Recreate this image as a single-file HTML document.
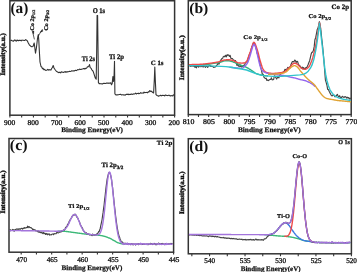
<!DOCTYPE html><html><head><meta charset="utf-8"><style>html,body{margin:0;padding:0;background:#fff;width:357px;height:272px;overflow:hidden}svg{display:block;will-change:transform;filter:blur(0.3px)}text{font-family:"Liberation Serif",serif;text-rendering:geometricPrecision}</style></head><body>
<svg width="357" height="272" viewBox="0 0 357 272">
<rect x="9.9" y="0.75" width="164.7" height="114.45" fill="none" stroke="#333" stroke-width="1.5"/>
<path d="M174.6 115.2v2.4M162.84 115.2v2.4M151.07 115.2v2.4M139.31 115.2v2.4M127.54 115.2v2.4M115.78 115.2v2.4M104.01 115.2v2.4M92.25 115.2v2.4M80.49 115.2v2.4M68.72 115.2v2.4M56.96 115.2v2.4M45.19 115.2v2.4M33.43 115.2v2.4M21.66 115.2v2.4M9.9 115.2v2.4" stroke="#333" stroke-width="1.1" fill="none"/>
<text transform="translate(3.90 124.72) scale(1.028 1.000)" font-size="7.3" fill="#111" stroke="#111" stroke-width="0.3">900</text>
<text transform="translate(27.43 124.72) scale(1.028 1.000)" font-size="7.3" fill="#111" stroke="#111" stroke-width="0.3">800</text>
<text transform="translate(50.96 124.72) scale(1.028 1.000)" font-size="7.3" fill="#111" stroke="#111" stroke-width="0.3">700</text>
<text transform="translate(74.49 124.72) scale(1.028 1.000)" font-size="7.3" fill="#111" stroke="#111" stroke-width="0.3">600</text>
<text transform="translate(98.02 124.72) scale(1.028 1.000)" font-size="7.3" fill="#111" stroke="#111" stroke-width="0.3">500</text>
<text transform="translate(121.54 124.72) scale(1.028 1.000)" font-size="7.3" fill="#111" stroke="#111" stroke-width="0.3">400</text>
<text transform="translate(145.07 124.72) scale(1.028 1.000)" font-size="7.3" fill="#111" stroke="#111" stroke-width="0.3">300</text>
<text transform="translate(168.60 124.72) scale(1.028 1.000)" font-size="7.3" fill="#111" stroke="#111" stroke-width="0.3">200</text>
<text transform="translate(61.28 131.52) scale(1.027 1.000)" font-size="7.0" font-weight="bold" fill="#111" stroke="#111" stroke-width="0.25">Binding Energy(eV)</text>
<text transform="translate(4.54 75.47) rotate(-90) scale(1.037 1.000)" font-size="6.8" font-weight="bold" fill="#111" stroke="#111" stroke-width="0.4">Intensity(a.u.)</text>
<text transform="translate(10.53 12.73) scale(1.054 1.070)" font-size="14.5" font-weight="bold" fill="#111" stroke="#111" stroke-width="0">(a)</text>
<polyline points="10.4,40.6 11.5,40.2 12.15,40.69 12.8,40.9 13.5,41.17 14.2,40.3 14.9,39.87 15.6,40.8 16.3,41.09 17,40.1 17.7,40.38 18.4,40.7 19.1,40.25 19.8,40.4 20.5,40.34 21.2,40.9 21.9,40.14 22.6,40.2 23.3,40.27 24,40.5 24.8,40.37 25.6,39.6 26.6,40.2 27.5,41.2 28.3,43 29.2,44.6 29.85,45.42 30.5,45.8 31.15,46.54 31.8,46.8 33,46.4 33.6,44.7 34.2,43 34.8,47.5 35.5,53.2 36.4,48 37.5,38.5 38.3,34.6 38.8,40.5 39.4,52 40,62 41,66.5 41.75,67.01 42.5,68.8 43.17,68.37 43.83,69.72 44.5,69.3 45.12,69.82 45.75,70.43 46.38,70.21 47,69.9 47.67,69.41 48.33,70.19 49,69.6 49.67,69.94 50.33,69.88 51,69.9 51.7,68.39 52.4,67.5 53.2,65.5 54,68 55,69.5 55.75,70.5 56.5,71.5 57.25,71.79 58,72.2 58.67,72.61 59.33,72.38 60,72.4 60.67,72.87 61.33,71.84 62,72 62.67,72.28 63.33,72.39 64,72.3 64.65,71.85 65.3,71.6 65.95,72.31 66.6,71.8 67.2,71.95 67.8,71.64 68.4,71.8 69,71.6 69.67,71.21 70.33,71.42 71,71.2 71.73,70.87 72.47,71.07 73.2,70.9 74.1,71.07 75,70.5 75.67,70.27 76.33,70.62 77,70.2 77.67,69.64 78.33,69.76 79,69.7 79.67,69.08 80.33,69.46 81,69.4 81.67,69.23 82.33,68.93 83,68.8 83.67,68.56 84.33,69.04 85,68.4 85.9,68.64 86.8,67.8 87.4,66.89 88,66.9 88.8,66.2 89.5,64.6 90.2,67.6 91.2,68.4 91.8,69.85 92.4,70.4 93.15,71.35 93.9,73.6 94.6,75.8 95.3,78 96.2,79.2 96.7,50 97.1,15.4 97.6,15.6 98.1,55 98.4,82.5 99,83.6 99.75,83.42 100.5,83.8 101.23,83.77 101.97,83.91 102.7,83.9 103.47,83.37 104.23,83.36 105,83.5 105.7,83.46 106.4,83.1 107.1,83.3 107.73,82.96 108.37,83.35 109,83 109.9,83.25 110.8,82.8 111.5,84.8 112.2,83.4 112.9,76.5 113.5,81.5 114.1,75 114.5,61.2 114.9,93.8 115.9,95 116.6,94.91 117.3,94.87 118,94.8 118.6,94.75 119.2,94.55 119.8,94.49 120.4,94.25 121,94.6 121.6,94.91 122.2,94.69 122.8,94.73 123.4,94.92 124,94.9 124.6,95 125.2,95.24 125.8,94.5 126.4,94.35 127,94.4 127.6,94.44 128.2,94 128.8,94.76 129.4,94.59 130,94.2 130.72,94.4 131.44,94.03 132.16,94.3 132.88,94.36 133.6,93.9 134.28,94.03 134.96,93.67 135.64,93.08 136.32,94.02 137,93.6 137.6,93.41 138.2,93.16 138.8,93.76 139.4,93.49 140,93.3 140.62,92.69 141.25,93.11 141.88,92.97 142.5,93 143.27,93.28 144.03,92.08 144.8,92.7 145.53,92.45 146.27,92.45 147,92.4 147.67,92.81 148.33,91.72 149,92 149.8,90.58 150.6,91.4 151.4,91.17 152.2,92 152.9,92.6 153.6,93 154.3,80 154.8,67 155.3,80 156,94.6 157.1,95.5 157.82,95.83 158.55,96.21 159.28,95.73 160,95.6 160.67,95.26 161.33,95.87 162,95.5 162.67,95.39 163.33,95.44 164,95.4 164.67,95.92 165.33,95.12 166,95.11 166.67,95.51 167.33,95.54 168,95.6 168.6,95.27 169.2,95.23 169.8,95.68 170.4,96.03 171,95.5 171.6,95.77 172.2,95.76 172.8,95.97 173.4,94.74 174,95.5" fill="none" stroke="#333" stroke-width="1.1" stroke-linejoin="round"/>
<text transform="translate(92.65 12.59) scale(1.000 1.105)" font-size="6.5" font-weight="bold" fill="#111" stroke="#111" stroke-width="0.25">O 1s</text>
<text transform="translate(81.78 60.57) scale(0.981 1.076)" font-size="6.5" font-weight="bold" fill="#111" stroke="#111" stroke-width="0.25">Ti 2s</text>
<text transform="translate(109.02 58.60) scale(1.028 1.089)" font-size="6.5" font-weight="bold" fill="#111" stroke="#111" stroke-width="0.25">Ti 2p</text>
<text transform="translate(150.69 64.65) scale(1.061 1.017)" font-size="6.5" font-weight="bold" fill="#111" stroke="#111" stroke-width="0.25">C 1s</text>
<text transform="translate(33.58 30.41) rotate(-90) scale(1.070 1.000)" font-size="5.7" font-weight="bold" fill="#111" stroke="#111" stroke-width="0.25">Co 2p<tspan font-size="3.8" dy="1.1">1/2</tspan></text>
<text transform="translate(47.56 30.58) rotate(-90) scale(1.078 1.000)" font-size="5.7" font-weight="bold" fill="#111" stroke="#111" stroke-width="0.25">Co 2p<tspan font-size="3.8" dy="1.1">3/2</tspan></text>
<path d="M32.7 32.2L34.4 39.4M41.4 30.6L38.2 36.4" stroke="#222" stroke-width="0.75" fill="none"/>
<path d="M32.0 31.2L34.0 30.9L33.6 34.2Z M42.3 29.2L42.9 31.2L40.2 32.6Z" fill="#1a1a1a" stroke="#1a1a1a" stroke-width="0.3"/>
<rect x="188.3" y="0.75" width="162.9" height="113.85" fill="none" stroke="#333" stroke-width="1.5"/>
<path d="M351.2 114.6v2.4M341.02 114.6v2.4M330.84 114.6v2.4M320.66 114.6v2.4M310.48 114.6v2.4M300.29 114.6v2.4M290.11 114.6v2.4M279.93 114.6v2.4M269.75 114.6v2.4M259.57 114.6v2.4M249.39 114.6v2.4M239.21 114.6v2.4M229.03 114.6v2.4M218.84 114.6v2.4M208.66 114.6v2.4M198.48 114.6v2.4M188.3 114.6v2.4" stroke="#333" stroke-width="1.1" fill="none"/>
<text transform="translate(182.66 123.53) scale(1.079 1.000)" font-size="7.3" fill="#111" stroke="#111" stroke-width="0.3">810</text>
<text transform="translate(203.02 123.53) scale(1.079 1.000)" font-size="7.3" fill="#111" stroke="#111" stroke-width="0.3">805</text>
<text transform="translate(223.38 123.53) scale(1.079 1.000)" font-size="7.3" fill="#111" stroke="#111" stroke-width="0.3">800</text>
<text transform="translate(243.75 123.53) scale(1.079 1.000)" font-size="7.3" fill="#111" stroke="#111" stroke-width="0.3">795</text>
<text transform="translate(264.11 123.53) scale(1.079 1.000)" font-size="7.3" fill="#111" stroke="#111" stroke-width="0.3">790</text>
<text transform="translate(284.47 123.53) scale(1.079 1.000)" font-size="7.3" fill="#111" stroke="#111" stroke-width="0.3">785</text>
<text transform="translate(304.83 123.53) scale(1.079 1.000)" font-size="7.3" fill="#111" stroke="#111" stroke-width="0.3">780</text>
<text transform="translate(325.20 123.53) scale(1.079 1.000)" font-size="7.3" fill="#111" stroke="#111" stroke-width="0.3">775</text>
<text transform="translate(345.56 123.53) scale(1.079 1.000)" font-size="7.3" fill="#111" stroke="#111" stroke-width="0.3">770</text>
<text transform="translate(237.93 131.67) scale(1.046 1.000)" font-size="7.0" font-weight="bold" fill="#111" stroke="#111" stroke-width="0.25">Binding Energy(eV)</text>
<text transform="translate(183.60 80.26) rotate(-90) scale(1.101 1.000)" font-size="6.8" font-weight="bold" fill="#111" stroke="#111" stroke-width="0.4">Intensity(a.u.)</text>
<text transform="translate(189.19 12.58) scale(1.078 1.014)" font-size="14.5" font-weight="bold" fill="#111" stroke="#111" stroke-width="0">(b)</text>
<text transform="translate(331.56 8.73) scale(1.062 1.050)" font-size="6.5" font-weight="bold" fill="#111" stroke="#111" stroke-width="0.25">Co 2p</text>
<text transform="translate(308.57 17.96) scale(1.005 0.908)" font-size="6.5" font-weight="bold" fill="#111" stroke="#111" stroke-width="0.25">Co 2p<tspan font-size="4.8" dy="1.9">3/2</tspan></text>
<text transform="translate(243.37 38.87) scale(1.072 0.875)" font-size="6.5" font-weight="bold" fill="#111" stroke="#111" stroke-width="0.25">Co 2p<tspan font-size="4.8" dy="1.9">1/2</tspan></text>
<polyline points="188.9,64.98 189.65,65.71 190.4,66.3 191.15,65.55 191.9,66.2 192.65,65.61 193.4,66.18 194.15,65.8 194.9,67.37 195.65,66.16 196.4,67.85 197.15,65.81 197.9,66.4 198.65,67.11 199.4,66.08 200.15,65.57 200.9,66.83 201.65,65.7 202.4,66.23 203.15,67.03 203.9,65.91 204.65,66.24 205.4,67.32 206.15,66.4 206.9,66.31 207.65,67.49 208.4,66.12 209.15,65.96 209.9,65.1 210.65,66.41 211.4,66.32 212.15,66.55 212.9,66.57 213.65,67.37 214.4,67.29 215.15,66.97 215.9,66.47 216.65,65.44 217.4,64.6 218.15,62.82 218.9,64.19 219.65,62.81 220.4,60.79 221.15,59.58 221.9,58.54 222.65,58.15 223.4,56.62 224.15,56.11 224.9,56.78 225.65,55.25 226.4,56.78 227.15,54.57 227.9,55.3 228.65,54.88 229.4,56.5 230.15,55.39 230.9,58.48 231.65,58.45 232.4,58.52 233.15,59.69 233.9,59.96 234.65,61.36 235.4,60.52 236.15,62.23 236.9,65.29 237.65,64.41 238.4,66.12 239.15,65.75 239.9,66.71 240.65,65.64 241.4,66.98 242.15,66.73 242.9,65.78 243.65,65.34 244.4,66.07 245.15,63.2 245.9,62.41 246.65,61.41 247.4,61.03 248.15,58.3 248.9,55.83 249.65,53.64 250.4,52.42 251.15,49.28 251.9,46.69 252.65,45.41 253.4,42.6 254.15,43.25 254.9,44.92 255.65,46.8 256.4,49.72 257.15,53.22 257.9,55.17 258.65,57.93 259.4,60.67 260.15,64.87 260.9,67.99 261.65,71.16 262.4,74.52 263.15,74.26 263.9,77.16 264.65,77.91 265.4,78.59 266.15,78.18 266.9,80.5 267.65,80.07 268.4,80.65 269.15,79.91 269.9,79.5 270.65,79.44 271.4,77.87 272.15,79.79 272.9,79.92 273.65,79.29 274.4,75.87 275.15,76.25 275.9,77.79 276.65,79.08 277.4,77.6 278.15,77.11 278.9,77.91 279.65,74.91 280.4,74.6 281.15,73.22 281.9,72.96 282.65,72.3 283.4,71.93 284.15,71.37 284.9,69.36 285.65,69.51 286.4,70.39 287.15,68.57 287.9,67.4 288.65,68.44 289.4,67.05 290.15,67.86 290.9,64.69 291.65,63.06 292.4,61.59 293.15,61.55 293.9,61.99 294.65,60.09 295.4,60.48 296.15,62.47 296.9,61.34 297.65,61.65 298.4,64.37 299.15,65.26 299.9,65.68 300.65,67.31 301.4,68.23 302.15,67.05 302.9,69.02 303.65,67.52 304.4,68.98 305.15,68.84 305.9,67.62 306.65,67.51 307.4,66.19 308.15,64.52 308.9,62.48 309.65,60.74 310.4,57.26 311.15,54.01 311.9,52.32 312.65,52.09 313.4,50.37 314.15,46.9 314.9,39.72 315.65,37.72 316.4,33.92 317.15,29.8 317.9,28.02 318.65,25.55 319.4,21.69 320.15,25.1 320.9,30.01 321.65,37.81 322.4,44.08 323.15,51.69 323.9,60.28 324.65,70.5 325.4,79.9 326.15,82.39 326.9,85.02 327.65,89.45 328.4,89.47 329.15,91.18 329.9,92.7 330.65,94.31 331.4,95.51 332.15,95.86 332.9,95.03 333.65,94.73 334.4,95.84 335.15,96.86 335.9,96.33 336.65,95.19 337.4,94.48 338.15,95.96 338.9,97.07 339.65,95.65 340.4,97.49 341.15,98.09 341.9,96.68 342.65,96.31 343.4,97.29 344.15,97.43 344.9,96.6 345.65,96.75 346.4,98.06 347.15,97.19 347.9,98 348.65,97.64 349.4,99 350.15,98.2 350.6,99.18" fill="none" stroke="#444" stroke-width="1.15" stroke-linejoin="round"/>
<polyline points="188.9,65.3 189.4,65.3 189.9,65.3 190.4,65.29 190.9,65.29 191.4,65.28 191.9,65.27 192.4,65.26 192.9,65.25 193.4,65.24 193.9,65.23 194.4,65.21 194.9,65.2 195.4,65.18 195.9,65.16 196.4,65.15 196.9,65.13 197.4,65.11 197.9,65.09 198.4,65.07 198.9,65.05 199.4,65.03 199.9,65 200.4,64.98 200.9,64.95 201.4,64.92 201.9,64.89 202.4,64.85 202.9,64.8 203.4,64.76 203.9,64.71 204.4,64.65 204.9,64.6 205.4,64.54 205.9,64.48 206.4,64.42 206.9,64.36 207.4,64.3 207.9,64.24 208.4,64.18 208.9,64.11 209.4,64.05 209.9,63.98 210.4,63.9 210.9,63.82 211.4,63.73 211.9,63.65 212.4,63.56 212.9,63.48 213.4,63.39 213.9,63.32 214.4,63.24 214.9,63.17 215.4,63.11 215.9,63.05 216.4,62.99 216.9,62.92 217.4,62.86 217.9,62.78 218.4,62.7 218.9,62.6 219.4,62.48 219.9,62.32 220.4,62.15 220.9,61.97 221.4,61.79 221.9,61.63 222.4,61.48 222.9,61.33 223.4,61.17 223.9,61.03 224.4,60.91 224.9,60.83 225.4,60.79 225.9,60.76 226.4,60.74 226.9,60.72 227.4,60.71 227.9,60.7 228.4,60.72 228.9,60.77 229.4,60.86 229.9,60.97 230.4,61.1 230.9,61.22 231.4,61.35 231.9,61.5 232.4,61.67 232.9,61.85 233.4,62.04 233.9,62.24 234.4,62.45 234.9,62.67 235.4,62.9 235.9,63.13 236.4,63.34 236.9,63.55 237.4,63.76 237.9,63.96 238.4,64.16 238.9,64.36 239.4,64.56 239.9,64.76 240.4,64.96 240.9,65.16 241.4,65.36 241.9,65.56 242.4,65.76 242.9,65.95 243.4,66.15 243.9,66.34 244.4,66.54 244.9,66.74 245.4,66.95 245.9,67.17 246.4,67.4 246.9,67.65 247.4,67.91 247.9,68.19 248.4,68.47 248.9,68.77 249.4,69.08 249.9,69.39 250.4,69.71 250.9,70.03 251.4,70.35 251.9,70.66 252.4,71 252.9,71.36 253.4,71.72 253.9,72.09 254.4,72.45 254.9,72.78 255.4,73.09 255.9,73.35 256.4,73.58 256.9,73.79 257.4,73.99 257.9,74.17 258.4,74.34 258.9,74.5 259.4,74.64 259.9,74.77 260.4,74.9 260.9,75.01 261.4,75.12 261.9,75.22 262.4,75.31 262.9,75.39 263.4,75.47 263.9,75.54 264.4,75.61 264.9,75.68 265.4,75.74 265.9,75.8 266.4,75.86 266.9,75.91 267.4,75.95 267.9,75.99 268,76" fill="none" stroke="#2fb07e" stroke-width="1.4" stroke-linejoin="round"/>
<polyline points="188.9,64.6 189.4,64.6 189.9,64.6 190.4,64.59 190.9,64.59 191.4,64.58 191.9,64.57 192.4,64.56 192.9,64.55 193.4,64.54 193.9,64.53 194.4,64.51 194.9,64.5 195.4,64.48 195.9,64.46 196.4,64.45 196.9,64.43 197.4,64.41 197.9,64.39 198.4,64.37 198.9,64.35 199.4,64.33 199.9,64.3 200.4,64.28 200.9,64.25 201.4,64.22 201.9,64.18 202.4,64.14 202.9,64.1 203.4,64.05 203.9,64 204.4,63.95 204.9,63.89 205.4,63.83 205.9,63.77 206.4,63.71 206.9,63.65 207.4,63.59 207.9,63.53 208.4,63.47 208.9,63.41 209.4,63.35 209.9,63.29 210.4,63.23 210.9,63.16 211.4,63.09 211.9,63.02 212.4,62.95 212.9,62.88 213.4,62.8 213.9,62.72 214.4,62.63 214.9,62.55 215.4,62.46 215.9,62.37 216.4,62.27 216.9,62.17 217.4,62.06 217.9,61.95 218.4,61.83 218.9,61.7 219.4,61.55 219.9,61.37 220.4,61.17 220.9,60.97 221.4,60.79 221.9,60.63 222.4,60.49 222.9,60.36 223.4,60.23 223.9,60.12 224.4,60.02 224.9,59.94 225.4,59.88 225.9,59.83 226.4,59.78 226.9,59.74 227.4,59.71 227.9,59.7 228.4,59.71 228.9,59.74 229.4,59.8 229.9,59.87 230.4,59.96 230.9,60.05 231.4,60.14 231.9,60.26 232.4,60.4 232.9,60.57 233.4,60.75 233.9,60.94 234.4,61.16 234.9,61.42 235.4,61.68 235.9,61.93 236.4,62.14 236.9,62.34 237.4,62.53 237.9,62.7 238.4,62.83 238.9,62.91 239.4,62.97 239.9,63.02 240.4,63.06 240.9,63.09 241.4,63.1 241.9,63.1 242.4,63.08 242.9,63.05 243.4,63.01 243.9,62.94 244.4,62.8 244.9,62.64 245.4,62.45 245.9,62.21 246.4,61.78 246.9,60.88 247.4,59.77 247.9,58.43 248.4,57 248.9,55.64 249.4,54.27 249.9,52.93 250.4,51.57 250.9,50.08 251.4,48.45 251.9,46.88 252.4,45.35 252.9,44.06 253.4,42.82 253.9,42.2 254.4,42.6 254.9,43.43 255.4,44.43 255.9,45.73 256.4,47.15 256.9,48.69 257.4,50.21 257.9,51.85 258.4,53.78 258.9,55.84 259.4,58.01 259.9,59.85 260.4,61.46 260.9,63.1 261.4,64.78 261.9,66.28 262.4,67.67 262.9,68.82 263.4,69.66 263.9,70.38 264.4,70.98 264.9,71.43 265.4,71.75 265.9,72.04 266.4,72.28 266.9,72.48 267.4,72.65 267.9,72.78 268.4,72.88 268.9,72.98 269.4,73.07 269.9,73.15 270.4,73.22 270.9,73.28 271.4,73.34 271.9,73.37 272.4,73.39 272.9,73.4 273.4,73.39 273.9,73.36 274.4,73.33 274.9,73.29 275.4,73.25 275.9,73.21 276.4,73.17 276.9,73.13 277.4,73.09 277.9,73.04 278.4,72.99 278.9,72.94 279.4,72.88 279.9,72.81 280.4,72.74 280.9,72.66 281.4,72.57 281.9,72.47 282.4,72.36 282.9,72.23 283.4,72.07 283.9,71.88 284.4,71.64 284.9,71.38 285.4,71.07 285.9,70.67 286.4,70.2 286.9,69.69 287.4,69.18 287.9,68.69 288.4,68.26 288.9,67.85 289.4,67.45 289.9,67.03 290.4,66.59 290.9,66.09 291.4,65.46 291.9,64.81 292.4,64.28 292.9,63.9 293.4,63.56 293.9,63.3 294.4,63.2 294.9,63.24 295.4,63.35 295.9,63.5 296.4,63.68 296.9,63.96 297.4,64.32 297.9,64.73 298.4,65.17 298.9,65.71 299.4,66.28 299.9,66.81 300.4,67.27 300.9,67.72 301.4,68.11 301.9,68.42 302.4,68.7 302.9,68.94 303.4,69.09 303.9,69.14 304.4,69.17 304.9,69.19 305.4,69.2 305.9,69.11 306.4,68.89 306.9,68.59 307.4,68.27 307.9,67.87 308.4,67.36 308.9,66.76 309.4,66.04 309.9,65.07 310.4,63.94 310.9,62.74 311.4,61.52 311.9,60.2 312.4,58.76 312.9,57.16 313.4,55.29 313.9,53.24 314.4,51.19 314.9,49.15 315.4,46.97 315.9,44.51 316.4,41.8 316.9,38.91 317.4,35.77 317.9,32.47 318.4,29.01 318.9,24.78 319.4,22.6 319.9,23.91 320.4,27.88 320.5,29" fill="none" stroke="#ee4b4b" stroke-width="1.4" stroke-linejoin="round"/>
<polyline points="229.5,67.3 230,67.33 230.5,67.36 231,67.4 231.5,67.44 232,67.48 232.5,67.53 233,67.58 233.5,67.64 234,67.69 234.5,67.75 235,67.8 235.5,67.84 236,67.88 236.5,67.93 237,67.97 237.5,68.02 238,68.1 238.5,68.18 239,68.25 239.5,68.3 240,68.34 240.5,68.37 241,68.39 241.5,68.4 242,68.3 242.5,68.04 243,67.71 243.5,67.35 244,66.87 244.5,66.33 245,65.8 245.5,65.35 246,64.92 246.5,64.42 247,63.74 247.5,62.89 248,61.87 248.5,60.61 249,59.21 249.5,57.66 250,56 250.5,54.27 251,52.5 251.5,50.73 252,49 252.5,47.24 253,45.8 253.5,44.79 254,44.3 254.5,44.72 255,45.6 255.5,46.88 256,48.6 256.5,50.68 257,52.94 257.5,55.16 258,57.4 258.5,59.64 259,61.76 259.5,63.77 260,65.55 260.5,67.2 261,68.5 261.5,69.45 262,70.22 262.5,70.8 263,71.25 263.5,71.63 264,71.94 264.5,72.2 265,72.43 265.5,72.63 266,72.81 266.5,72.98 267,73.13 267.5,73.27 268,73.4 268.5,73.52 269,73.64 269.5,73.75 270,73.86 270.5,73.95 271,74.04 271.5,74.13 272,74.2 272.5,74.27 273,74.33 273.5,74.38 274,74.43 274.5,74.48 275,74.53 275.5,74.58 276,74.62 276.5,74.67 277,74.72 277.5,74.78 278,74.83 278.5,74.89 279,74.95 279.5,75.01 280,75.07 280.5,75.13 281,75.19 281.5,75.25 282,75.31 282.5,75.38 283,75.45 283.5,75.52 284,75.6 284.5,75.68 285,75.76 285.5,75.86 286,75.97 286.5,76.09 287,76.22 287.5,76.36 288,76.51 288.5,76.65 289,76.79 289.5,76.93 290,77.06 290.5,77.18 291,77.28 291.5,77.38 292,77.46 292.5,77.55 293,77.63 293.5,77.72 294,77.82 294.5,77.92 295,78.04 295.5,78.17 296,78.32 296.5,78.47 297,78.62 297.5,78.77 298,78.93 298.5,79.08 299,79.23 299.5,79.37 300,79.5 300.5,79.62 301,79.73 301.5,79.83 302,79.93 302.5,80.02 303,80.12 303.5,80.23 304,80.34 304.5,80.46 305,80.6 305.5,80.76 306,80.93 306.5,81.13 307,81.33 307.5,81.55 308,81.78 308.5,82.01 309,82.24 309.5,82.49 310,82.75 310.5,83.02 311,83.3 311.5,83.6 312,83.92 312.5,84.25 313,84.61 313.5,85 314,85.43 314.5,85.89 315,86.39 315.2,86.6" fill="none" stroke="#9466ee" stroke-width="1.4" stroke-linejoin="round"/>
<polyline points="268,74.2 268.5,74.2 269,74.2 269.5,74.19 270,74.18 270.5,74.18 271,74.17 271.5,74.15 272,74.14 272.5,74.13 273,74.11 273.5,74.1 274,74.08 274.5,74.06 275,74.04 275.5,74.02 276,74 276.5,73.98 277,73.95 277.5,73.92 278,73.88 278.5,73.83 279,73.78 279.5,73.73 280,73.67 280.5,73.6 281,73.53 281.5,73.45 282,73.37 282.5,73.28 283,73.18 283.5,73.08 284,72.93 284.5,72.73 285,72.49 285.5,72.22 286,71.92 286.5,71.6 287,71.23 287.5,70.78 288,70.28 288.5,69.78 289,69.31 289.5,68.82 290,68.31 290.5,67.82 291,67.37 291.5,67 292,66.67 292.5,66.34 293,66.04 293.5,65.8 294,65.64 294.5,65.6 295,65.68 295.5,65.84 296,66.05 296.5,66.3 297,66.65 297.5,67.14 298,67.69 298.5,68.27 299,68.93 299.5,69.64 300,70.34 300.5,71 301,71.61 301.5,72.21 302,72.79 302.5,73.36 303,73.92 303.5,74.49 304,75.05 304.5,75.62 305,76.19 305.5,76.75 306,77.28 306.5,77.8 307,78.29 307.5,78.77 308,79.22 308.5,79.67 309,80.11 309.5,80.54 310,80.96 310.5,81.36 311,81.76 311.5,82.17 312,82.6 312.5,83.03 313,83.46 313.5,83.9 314,84.37 314.5,84.89 315,85.49 315.5,86.19 316,86.92 316.5,87.62 317,88.32 317.5,89.02 318,89.71 318.5,90.4 319,91.09 319.5,91.78 320,92.46 320.5,93.12 321,93.76 321.5,94.36 322,94.95 322.5,95.51 323,96.03 323.5,96.49 324,96.91 324.5,97.29 325,97.63 325.5,97.9 326,98.12 326.5,98.31 327,98.49 327.5,98.64 328,98.78 328.5,98.91 329,99.02 329.5,99.12 330,99.21 330.5,99.28 331,99.36 331.5,99.43 332,99.5 332.5,99.58 333,99.67 333.5,99.76 334,99.86 334.5,99.96 335,100.06 335.5,100.16 336,100.25 336.5,100.33 337,100.4 337.5,100.46 338,100.52 338.5,100.58 339,100.63 339.5,100.68 340,100.73 340.5,100.78 341,100.82 341.5,100.87 342,100.92 342.5,100.97 343,101.02 343.5,101.06 344,101.11 344.5,101.16 345,101.2 345.5,101.25 346,101.3 346.5,101.35 347,101.4 347.5,101.45 348,101.5 348.5,101.55 349,101.6 349.5,101.65 350,101.7 350.5,101.75 351,101.8" fill="none" stroke="#e0a334" stroke-width="1.4" stroke-linejoin="round"/>
<polyline points="188.9,65.6 202,65.6 216,66.1 226,66.6 231.2,67.2 236.3,68.2 241.5,69 246.6,70 251.8,72 256,73.6 263.6,75.6 272.8,76.4 282,76.2 290.7,75.6 299.9,74.9 303.5,74.4 305.8,73.2 308.2,71.2 310.4,68.2 312.2,64.6 313.8,59.5 315.2,53 316.5,46 317.6,38.5 318.6,30.5 319.4,23.2 320.3,29.5 321.3,38 322.3,46.5 323.2,54.5 324.1,62.6 324.9,69 325.7,74.4 326.9,80.5 328.4,85.8 330,89.8 332.4,93.4 334.2,95.2 336.2,96.7 338.5,97.8 341,98.6 343.5,99.2 345.8,99.6 348.5,100.1 350.6,100.5" fill="none" stroke="#30c4cc" stroke-width="1.4" stroke-linejoin="round"/>
<rect x="9" y="138.5" width="164.6" height="113.7" fill="none" stroke="#333" stroke-width="1.5"/>
<path d="M173.6 252.2v2.4M158.36 252.2v2.4M143.12 252.2v2.4M127.88 252.2v2.4M112.64 252.2v2.4M97.4 252.2v2.4M82.16 252.2v2.4M66.91 252.2v2.4M51.67 252.2v2.4M36.43 252.2v2.4M21.19 252.2v2.4" stroke="#333" stroke-width="1.1" fill="none"/>
<text transform="translate(16.23 261.73) scale(0.988 1.000)" font-size="7.3" fill="#111" stroke="#111" stroke-width="0.3">470</text>
<text transform="translate(46.71 261.73) scale(0.988 1.000)" font-size="7.3" fill="#111" stroke="#111" stroke-width="0.3">465</text>
<text transform="translate(77.19 261.73) scale(0.988 1.000)" font-size="7.3" fill="#111" stroke="#111" stroke-width="0.3">460</text>
<text transform="translate(107.68 261.73) scale(0.988 1.000)" font-size="7.3" fill="#111" stroke="#111" stroke-width="0.3">455</text>
<text transform="translate(138.16 261.73) scale(0.988 1.000)" font-size="7.3" fill="#111" stroke="#111" stroke-width="0.3">450</text>
<text transform="translate(168.64 261.73) scale(0.988 1.000)" font-size="7.3" fill="#111" stroke="#111" stroke-width="0.3">445</text>
<text transform="translate(61.56 269.59) scale(1.011 1.000)" font-size="7.0" font-weight="bold" fill="#111" stroke="#111" stroke-width="0.25">Binding Energy(eV)</text>
<text transform="translate(4.59 213.42) rotate(-90) scale(1.057 1.000)" font-size="6.8" font-weight="bold" fill="#111" stroke="#111" stroke-width="0.4">Intensity(a.u.)</text>
<text transform="translate(9.83 149.58) scale(1.103 1.051)" font-size="14.5" font-weight="bold" fill="#111" stroke="#111" stroke-width="0">(c)</text>
<text transform="translate(156.87 144.51) scale(1.071 0.992)" font-size="6.5" font-weight="bold" fill="#111" stroke="#111" stroke-width="0.25">Ti 2p</text>
<text transform="translate(101.58 166.59) scale(1.048 1.022)" font-size="6.5" font-weight="bold" fill="#111" stroke="#111" stroke-width="0.25">Ti 2p<tspan font-size="4.8" dy="1.9">3/2</tspan></text>
<text transform="translate(68.10 207.98) scale(1.039 0.905)" font-size="6.5" font-weight="bold" fill="#111" stroke="#111" stroke-width="0.25">Ti 2p<tspan font-size="4.8" dy="1.9">1/2</tspan></text>
<polyline points="57.6,231.22 58.1,231.23 58.6,231.23 59.1,231.24 59.6,231.24 60.1,231.25 60.6,231.25 61.1,231.26 61.6,231.27 62.1,231.27 62.6,231.28 63.1,231.29 63.6,231.31 64.1,231.32 64.6,231.35 65.1,231.38 65.6,231.42 66.1,231.47 66.6,231.52 67.1,231.57 67.6,231.63 68.1,231.7 68.6,231.76 69.1,231.83 69.6,231.9 70.1,231.98 70.6,232.05 71.1,232.12 71.6,232.2 72.1,232.27 72.6,232.34 73.1,232.42 73.6,232.48 74.1,232.55 74.6,232.61 75.1,232.67 75.6,232.74 76.1,232.8 76.6,232.87 77.1,232.94 77.6,233 78.1,233.07 78.6,233.14 79.1,233.21 79.6,233.28 80.1,233.35 80.6,233.41 81.1,233.48 81.6,233.55 82.1,233.62 82.6,233.69 83.1,233.75 83.6,233.82 84.1,233.88 84.6,233.94 85.1,234 85.6,234.06 86.1,234.12 86.6,234.18 87.1,234.23 87.6,234.29 88.1,234.34 88.6,234.39 89.1,234.44 89.6,234.49 90.1,234.53 90.6,234.58 91.1,234.63 91.6,234.67 92.1,234.72 92.6,234.76 93.1,234.81 93.6,234.85 94.1,234.89 94.6,234.93 95.1,234.97 95.6,235 96.1,235.04 96.6,235.08 97.1,235.11 97.6,235.15 98.1,235.2 98.6,235.24 99.1,235.3 99.6,235.35 100.1,235.41 100.6,235.48 101.1,235.57 101.6,235.66 102.1,235.77 102.6,235.88 103.1,236 103.6,236.12 104.1,236.25 104.6,236.39 105.1,236.53 105.6,236.68 106.1,236.84 106.6,237.01 107.1,237.19 107.6,237.39 108.1,237.59 108.6,237.8 109.1,238.01 109.6,238.23 110.1,238.46 110.6,238.69 111.1,238.95 111.6,239.22 112.1,239.51 112.6,239.81 113.1,240.11 113.6,240.4 114.1,240.68 114.6,240.95 115.1,241.22 115.6,241.49 116.1,241.77 116.6,242.04 117.1,242.29 117.6,242.53 118.1,242.75 118.6,242.93 119.1,243.09 119.6,243.25 120.1,243.4 120.6,243.53 121.1,243.65 121.6,243.74 122.1,243.79 122.6,243.83 123.1,243.85 123.6,243.88 124.1,243.91 124.6,243.93 125.1,243.95" fill="none" stroke="#3cb878" stroke-width="1.4" stroke-linejoin="round"/>
<polyline points="9.6,231.42 10.1,229.54 10.6,230.69 11.1,230.24 11.6,230.23 12.1,230.26 12.6,229.47 13.1,230.11 13.6,229.77 14.1,231.34 14.6,229.98 15.1,229.62 15.6,229.52 16.1,229.23 16.6,228.94 17.1,229.09 17.6,229.32 18.1,228.94 18.6,229.33 19.1,228.79 19.6,228.8 20.1,229.34 20.6,228.87 21.1,228.38 21.6,228.44 22.1,228.65 22.6,229.14 23.1,228.17 23.6,228.09 24.1,228.47 24.6,227.6 25.1,227.71 25.6,228.05 26.1,227.8 26.6,227.49 27.1,227.62 27.6,226.13 28.1,227.61 28.6,226.78 29.1,226.5 29.6,227.35 30.1,227.68 30.6,227.45 31.1,227.47 31.6,228.21 32.1,228.48 32.6,229.36 33.1,229.36 33.6,229.4 34.1,230.04 34.6,229.8 35.1,229.81 35.6,230.71 36.1,230.99 36.6,230.94 37.1,230.97 37.6,231.6 38.1,230.71 38.6,232.17 39.1,232.26 39.6,231.57 40.1,232.41 40.6,232.14 41.1,232.97 41.6,231.99 42.1,232.56 42.6,233.34 43.1,233.63 43.6,232.43 44.1,233.22 44.6,233.67 45.1,233.42 45.6,234.43 46.1,233.44 46.6,234.17 47.1,233.71 47.6,234.79 48.1,234.3 48.6,234.23 49.1,233.75 49.6,235.15 50.1,234.79 50.6,234.79 51.1,234.93 51.6,234.58 52.1,234.14 52.6,234.03 53.1,233.97 53.6,234.77 54.1,233.56 54.6,233.79 55.1,233.72 55.6,233.72 56.1,233.62 56.6,232.64 57.1,232.22 57.6,232.7 58.1,233.02 58.6,232.71 59.1,232.36 59.6,232.02 60.1,232.12 60.6,231.73 61.1,231.95 61.6,231.04 62.1,231.08 62.6,230.61 63.1,230.48 63.6,229.96 64.1,230.51 64.6,229.68 65.1,229.2 65.6,227.24 66.1,227.29 66.6,226.47 67.1,226.15 67.6,224.16 68.1,224.62 68.6,223.59 69.1,221.62 69.6,220.7 70.1,219.72 70.6,219.02 71.1,218.28 71.6,217.93 72.1,216.21 72.6,215.91 73.1,215.11 73.6,215.36 74.1,214.74 74.6,214.96 75.1,214.14 75.6,214.84 76.1,215.11 76.6,216.73 77.1,217.22 77.6,217.79 78.1,218.79 78.6,220.29 79.1,220.99 79.6,222.09 80.1,223.84 80.6,225.8 81.1,225.85 81.6,226.8 82.1,227.56 82.6,228.43 83.1,230.02 83.6,230.91 84.1,231.26 84.6,231.99 85.1,232.43 85.6,232.89 86.1,232.61 86.6,233.36 87.1,233.86 87.6,233.73 88.1,234.04 88.6,234.05 89.1,234.36 89.6,234.93 90.1,234.51 90.6,234.67 91.1,235.11 91.6,235.08 92.1,235.53 92.6,234.03 93.1,235.2 93.6,234.64 94.1,234.84 94.6,235.06 95.1,235.06 95.6,234.9 96.1,234.37 96.6,234.7 97.1,233.6 97.6,233.2 98.1,232.97 98.6,231.66 99.1,231.76 99.6,230.08 100.1,229.05 100.6,226.37 101.1,224.1 101.6,221.85 102.1,219.24 102.6,215.52 103.1,212.38 103.6,208.39 104.1,204.96 104.6,199.79 105.1,196.14 105.6,191.16 106.1,186.89 106.6,183.13 107.1,179.48 107.6,177.09 108.1,175.16 108.6,173.25 109.1,172.67 109.6,173.12 110.1,173.45 110.6,175.09 111.1,177.32 111.6,179.88 112.1,184.49 112.6,187.6 113.1,193.01 113.6,197.39 114.1,202.56 114.6,206.74 115.1,210.97 115.6,215.78 116.1,219.46 116.6,223.34 117.1,226.8 117.6,229.71 118.1,232.3 118.6,234.28 119.1,236.42 119.6,237.22 120.1,239.34 120.6,240 121.1,241.79 121.6,242.52 122.1,241.75 122.6,242.96 123.1,243.14 123.6,242.99 124.1,243.79 124.6,243.52 125.1,243.08 125.6,243.75 126.1,243.85 126.6,243.98 127.1,243.47 127.6,244.23 128.1,244.28 128.6,243.53 129.1,243.73 129.6,243.96 130.1,243.77 130.6,244.7 131.1,244.08 131.6,243.6 132.1,243.68 132.6,243.98 133.1,244.92 133.6,243.93 134.1,244.05 134.6,244.21 135.1,243.98 135.6,244.91 136.1,243.79 136.6,244.3 137.1,244.06 137.6,244.25 138.1,243.53 138.6,244.71 139.1,243.95 139.6,244.01 140.1,243.63 140.6,243.71 141.1,244.23 141.6,244.39 142.1,244.3 142.6,244.48 143.1,244.29 143.6,244.01 144.1,244.33 144.6,244.24 145.1,243.96 145.6,244.29 146.1,244.51 146.6,244.09 147.1,243.86 147.6,244.29 148.1,244.76 148.6,243.92 149.1,243.96 149.6,243.95 150.1,244.49 150.6,243.27 151.1,244.15 151.6,244.48 152.1,243.67 152.6,244.6 153.1,244.21 153.6,243.78 154.1,244.08 154.6,243.39 155.1,243.77 155.6,244.73 156.1,243.64 156.6,244.74 157.1,243.97 157.6,244.4 158.1,244.02 158.6,243.1 159.1,243.77 159.6,244.08 160.1,243.54 160.6,243.46 161.1,244.15 161.6,243.74 162.1,243.32 162.6,243.73 163.1,244.34 163.6,243.81 164.1,244.37 164.6,244.61 165.1,244.01 165.6,243.55 166.1,243.48 166.6,243.99 167.1,244.35 167.6,244.11 168.1,244.22 168.6,243.82 169.1,244.12 169.6,243.81 170.1,243.87 170.6,243.48 171.1,243.37 171.6,243.81 172.1,243.56 172.6,243.62" fill="none" stroke="#444" stroke-width="1.15" stroke-linejoin="round"/>
<polyline points="9.6,230.6 10.1,230.6 10.6,230.6 11.1,230.61 11.6,230.61 12.1,230.61 12.6,230.61 13.1,230.62 13.6,230.62 14.1,230.62 14.6,230.63 15.1,230.63 15.6,230.63 16.1,230.64 16.6,230.64 17.1,230.64 17.6,230.65 18.1,230.65 18.6,230.66 19.1,230.66 19.6,230.66 20.1,230.67 20.6,230.67 21.1,230.68 21.6,230.68 22.1,230.69 22.6,230.69 23.1,230.7 23.6,230.7 24.1,230.71 24.6,230.71 25.1,230.72 25.6,230.72 26.1,230.73 26.6,230.73 27.1,230.74 27.6,230.75 28.1,230.75 28.6,230.76 29.1,230.76 29.6,230.77 30.1,230.77 30.6,230.78 31.1,230.79 31.6,230.79 32.1,230.8 32.6,230.8 33.1,230.81 33.6,230.82 34.1,230.82 34.6,230.83 35.1,230.84 35.6,230.84 36.1,230.85 36.6,230.86 37.1,230.86 37.6,230.87 38.1,230.87 38.6,230.88 39.1,230.89 39.6,230.89 40.1,230.9 40.6,230.91 41.1,230.92 41.6,230.92 42.1,230.93 42.6,230.94 43.1,230.95 43.6,230.96 44.1,230.97 44.6,230.98 45.1,230.99 45.6,231 46.1,231.01 46.6,231.02 47.1,231.03 47.6,231.04 48.1,231.05 48.6,231.06 49.1,231.07 49.6,231.08 50.1,231.09 50.6,231.1 51.1,231.11 51.6,231.12 52.1,231.13 52.6,231.14 53.1,231.15 53.6,231.16 54.1,231.17 54.6,231.18 55.1,231.18 55.6,231.19 56.1,231.19 56.6,231.2 57.1,231.2 57.6,231.2 58.1,231.19 58.6,231.18 59.1,231.16 59.6,231.14 60.1,231.1 60.6,231.05 61.1,230.98 61.6,230.89 62.1,230.77 62.6,230.62 63.1,230.43 63.6,230.19 64.1,229.89 64.6,229.54 65.1,229.12 65.6,228.63 66.1,228.06 66.6,227.4 67.1,226.65 67.6,225.82 68.1,224.91 68.6,223.92 69.1,222.88 69.6,221.8 70.1,220.7 70.6,219.61 71.1,218.55 71.6,217.56 72.1,216.65 72.6,215.87 73.1,215.24 73.6,214.78 74.1,214.5 74.6,214.42 75.1,214.54 75.6,214.87 76.1,215.39 76.6,216.1 77.1,216.96 77.6,217.96 78.1,219.06 78.6,220.24 79.1,221.47 79.6,222.71 80.1,223.94 80.6,225.14 81.1,226.28 81.6,227.36 82.1,228.35 82.6,229.25 83.1,230.07 83.6,230.79 84.1,231.42 84.6,231.96 85.1,232.43 85.6,232.83 86.1,233.16 86.6,233.44 87.1,233.67 87.6,233.86 88.1,234.02 88.6,234.16 89.1,234.27 89.6,234.37 90.1,234.45 90.6,234.52 91.1,234.58 91.6,234.64 92.1,234.7 92.6,234.75 93.1,234.8 93.6,234.84 94.1,234.88 94.6,234.91 95.1,234.94 95.6,234.95 96.1,234.95 96.6,234.94 97.1,234.89 97.6,234.81 98.1,234.67 98.6,234.45 99.1,234.11 99.6,233.63 100.1,232.96 100.6,232.05 101.1,230.84 101.6,229.27 102.1,227.28 102.6,224.82 103.1,221.85 103.6,218.35 104.1,214.32 104.6,209.82 105.1,204.93 105.6,199.77 106.1,194.52 106.6,189.36 107.1,184.5 107.6,180.18 108.1,176.61 108.6,173.97 109.1,172.41 109.6,172.03 110.1,172.75 110.6,174.43 111.1,177.03 111.6,180.45 112.1,184.54 112.6,189.16 113.1,194.12 113.6,199.27 114.1,204.44 114.6,209.48 115.1,214.3 115.6,218.81 116.1,222.93 116.6,226.62 117.1,229.87 117.6,232.67 118.1,235.03 118.6,236.98 119.1,238.58 119.6,239.87 120.1,240.9 120.6,241.72 121.1,242.35 121.6,242.82 122.1,243.36 122.6,243.36 123.1,244.44 123.6,243.96 124.1,243.59 124.6,244.08 125.1,244 125.6,243.72 126.1,244.29 126.6,243.74 127.1,243.07 127.6,244.23 128.1,243.81 128.6,244.44 129.1,243.8 129.6,243.65 130.1,244.46 130.6,243.68 131.1,244.06 131.6,244.43 132.1,244.03 132.6,243.98 133.1,244.03 133.6,244.25 134.1,243.76 134.6,244.18 135.1,244.17 135.6,244.7 136.1,243.9 136.6,243.73 137.1,244.22 137.6,243.88 138.1,244.09 138.6,244.04 139.1,244.35 139.6,243.8 140.1,243.97 140.6,243.23 141.1,243.73 141.6,244.46 142.1,243.8 142.6,243.79 143.1,243.63 143.6,244.17 144.1,244.05 144.6,243.64 145.1,244.2 145.6,244.08 146.1,244.23 146.6,243.81 147.1,244.52 147.6,244.12 148.1,243.96 148.6,243.84 149.1,243.93 149.6,244.26 150.1,243.92 150.6,244.32 151.1,244.17 151.6,244.4 152.1,244.24 152.6,243.98 153.1,243.43 153.6,244.09 154.1,244.24 154.6,244.05 155.1,244.17 155.6,243.86 156.1,243.89 156.6,243.72 157.1,244.41 157.6,244.05 158.1,243.85 158.6,243.6 159.1,243.95 159.6,244.43 160.1,244.14 160.6,243.78 161.1,244.43 161.6,244.43 162.1,244.29 162.6,244.24 163.1,244.35 163.6,244.16 164.1,244.23 164.6,243.77 165.1,244.45 165.6,244.07 166.1,244.61 166.6,243.39 167.1,244.21 167.6,244.29 168.1,243.9 168.6,244.14 169.1,244.22 169.6,244.17 170.1,243.84 170.6,243.96 171.1,244.31 171.6,244.38 172.1,244.03 172.6,244.02" fill="none" stroke="#a374dc" stroke-width="1.4" stroke-linejoin="round"/>
<rect x="188.3" y="138.7" width="163.1" height="115.1" fill="none" stroke="#333" stroke-width="1.5"/>
<path d="M351.4 253.8v2.4M333.67 253.8v2.4M315.94 253.8v2.4M298.22 253.8v2.4M280.49 253.8v2.4M262.76 253.8v2.4M245.03 253.8v2.4M227.3 253.8v2.4M209.57 253.8v2.4M191.85 253.8v2.4" stroke="#333" stroke-width="1.1" fill="none"/>
<text transform="translate(204.36 262.58) scale(0.981 1.000)" font-size="7.3" fill="#111" stroke="#111" stroke-width="0.3">540</text>
<text transform="translate(239.82 262.58) scale(0.981 1.000)" font-size="7.3" fill="#111" stroke="#111" stroke-width="0.3">535</text>
<text transform="translate(275.28 262.58) scale(0.981 1.000)" font-size="7.3" fill="#111" stroke="#111" stroke-width="0.3">530</text>
<text transform="translate(310.73 262.58) scale(0.981 1.000)" font-size="7.3" fill="#111" stroke="#111" stroke-width="0.3">525</text>
<text transform="translate(346.19 262.58) scale(0.981 1.000)" font-size="7.3" fill="#111" stroke="#111" stroke-width="0.3">520</text>
<text transform="translate(240.79 270.75) scale(0.994 1.000)" font-size="7.0" font-weight="bold" fill="#111" stroke="#111" stroke-width="0.25">Binding Energy(eV)</text>
<text transform="translate(183.59 213.89) rotate(-90) scale(1.040 1.000)" font-size="6.8" font-weight="bold" fill="#111" stroke="#111" stroke-width="0.4">Intensity(a.u.)</text>
<text transform="translate(189.15 150.65) scale(1.083 1.019)" font-size="14.5" font-weight="bold" fill="#111" stroke="#111" stroke-width="0">(d)</text>
<text transform="translate(338.17 143.58) scale(1.019 1.000)" font-size="6.0" font-weight="bold" fill="#111" stroke="#111" stroke-width="0.25">O 1s</text>
<text transform="translate(292.57 157.59) scale(1.046 0.966)" font-size="6.0" font-weight="bold" fill="#111" stroke="#111" stroke-width="0.25">Co-O</text>
<text transform="translate(277.09 217.57) scale(1.045 0.992)" font-size="6.0" font-weight="bold" fill="#111" stroke="#111" stroke-width="0.25">Ti-O</text>
<polyline points="264.4,234.77 264.9,234.79 265.4,234.81 265.9,234.84 266.4,234.87 266.9,234.9 267.4,234.93 267.9,234.96 268.4,234.99 268.9,235.02 269.4,235.05 269.9,235.09 270.4,235.14 270.9,235.18 271.4,235.23 271.9,235.28 272.4,235.33 272.9,235.38 273.4,235.44 273.9,235.49 274.4,235.55 274.9,235.6 275.4,235.65 275.9,235.71 276.4,235.76 276.9,235.8 277.4,235.85 277.9,235.89 278.4,235.93 278.9,235.97 279.4,236 279.9,236.03 280.4,236.06 280.9,236.09 281.4,236.12 281.9,236.15 282.4,236.18 282.9,236.21 283.4,236.24 283.9,236.27 284.4,236.3 284.9,236.34 285.4,236.38 285.9,236.42 286.4,236.46 286.9,236.51 287.4,236.56 287.9,236.62 288.4,236.68 288.9,236.75 289.4,236.82 289.9,236.9 290.4,236.98 290.9,237.06 291.4,237.15 291.9,237.24 292.4,237.33 292.9,237.43 293.4,237.53 293.9,237.63 294.4,237.74 294.9,237.85 295.4,237.96 295.9,238.07 296.4,238.2 296.9,238.33 297.4,238.48 297.9,238.63 298.4,238.79 298.9,238.95 299.4,239.11 299.9,239.27 300.4,239.43 300.9,239.6 301.4,239.78 301.9,239.96 302.4,240.14 302.9,240.3 303.4,240.45 303.9,240.58 304.4,240.68 304.9,240.78 305.4,240.87 305.9,240.95 306.4,241.02 306.9,241.1 307.4,241.17 307.9,241.23 308.4,241.3 308.9,241.36 309.4,241.43 309.9,241.5 310.4,241.57 310.9,241.65 311.4,241.73 311.9,241.82 312.4,241.91 312.9,242 313.4,242.09 313.9,242.17 314.4,242.25 314.9,242.31 315.4,242.36 315.9,242.4 316.4,242.42 316.9,242.44 317.4,242.46 317.9,242.47 318.4,242.49 318.9,242.51 319.4,242.53 319.9,242.54 320.4,242.56 320.9,242.57 321.4,242.59 321.9,242.6 322.4,242.61 322.9,242.62 323.4,242.63 323.9,242.64 324.4,242.65 324.9,242.66 325.4,242.67 325.9,242.67 326.4,242.68 326.9,242.68 327.4,242.69 327.9,242.69 328.4,242.7 328.9,242.7 329.4,242.7 329.9,242.7 330.4,242.7 330.9,242.7 331.4,242.7 331.9,242.7 332.4,242.7 332.9,242.7 333.4,242.7 333.9,242.7 334.4,242.7 334.9,242.7 335.4,242.7 335.9,242.7 336.4,242.7 336.9,242.7 337.4,242.7 337.9,242.7 338.4,242.7 338.9,242.7 339.4,242.7 339.9,242.7 340.4,242.7 340.9,242.7 341.4,242.7 341.9,242.7 342.4,242.7 342.9,242.7 343.4,242.7 343.9,242.7 344.4,242.7 344.9,242.7 345.4,242.7 345.9,242.7 346.4,242.7 346.9,242.7 347.4,242.7 347.9,242.7 348.4,242.7 348.9,242.7 349.4,242.7 349.9,242.7 350.4,242.7" fill="none" stroke="#3cb878" stroke-width="1.4" stroke-linejoin="round"/>
<polyline points="268.4,234.66 268.9,234.61 269.4,234.55 269.9,234.47 270.4,234.38 270.9,234.26 271.4,234.13 271.9,233.96 272.4,233.77 272.9,233.54 273.4,233.28 273.9,232.98 274.4,232.65 274.9,232.27 275.4,231.85 275.9,231.4 276.4,230.9 276.9,230.37 277.4,229.81 277.9,229.22 278.4,228.61 278.9,227.98 279.4,227.35 279.9,226.73 280.4,226.11 280.9,225.52 281.4,224.96 281.9,224.45 282.4,223.99 282.9,223.59 283.4,223.26 283.9,223.01 284.4,222.85 284.9,222.77 285.4,222.78 285.9,222.88 286.4,223.07 286.9,223.36 287.4,223.72 287.9,224.16 288.4,224.68 288.9,225.26 289.4,225.89 289.9,226.57 290.4,227.28 290.9,228.02 291.4,228.77 291.9,229.52 292.4,230.27 292.9,231.01 293.4,231.74 293.9,232.44 294.4,233.11 294.9,233.74 295.4,234.35 295.9,234.92 296.4,235.46 296.9,235.97 297.4,236.45 297.9,236.91 298.4,237.33 298.9,237.72 299.4,238.09 299.9,238.42 300.4,238.73 300.9,239.03 301.4,239.31 301.9,239.59 302.4,239.84 302.9,240.06 303.4,240.26 303.9,240.43 304.4,240.56 304.9,240.69 305.4,240.79 305.9,240.89 306.4,240.98 306.9,241.07 307.4,241.14 307.9,241.21 308.4,241.29 308.9,241.35 309.4,241.42 309.9,241.49 310.4,241.57 310.9,241.64 311.4,241.73 311.9,241.82 312.4,241.91 312.9,242 313.4,242.09 313.9,242.17" fill="none" stroke="#3a78e0" stroke-width="1.4" stroke-linejoin="round"/>
<polyline points="284.4,236.26 284.9,236.27 285.4,236.26 285.9,236.23 286.4,236.17 286.9,236.07 287.4,235.9 287.9,235.63 288.4,235.25 288.9,234.7 289.4,233.94 289.9,232.91 290.4,231.56 290.9,229.83 291.4,227.64 291.9,224.95 292.4,221.72 292.9,217.93 293.4,213.57 293.9,208.69 294.4,203.37 294.9,197.7 295.4,191.86 295.9,186.02 296.4,180.41 296.9,175.25 297.4,170.77 297.9,167.16 298.4,164.62 298.9,163.26 299.4,163.17 299.9,164.34 300.4,166.75 300.9,170.27 301.4,174.75 301.9,179.99 302.4,185.76 302.9,191.82 303.4,197.94 303.9,203.93 304.4,209.62 304.9,214.89 305.4,219.65 305.9,223.85 306.4,227.48 306.9,230.54 307.4,233.08 307.9,235.14 308.4,236.79 308.9,238.08 309.4,239.08 309.9,239.84 310.4,240.42 310.9,240.87 311.4,241.21 311.9,241.48 312.4,241.69 312.9,241.86 313.4,242 313.9,242.12" fill="none" stroke="#f04848" stroke-width="1.4" stroke-linejoin="round"/>
<polyline points="188.9,234.84 189.4,235.05 189.9,234.62 190.4,234.59 190.9,234.94 191.4,234.69 191.9,234.84 192.4,235.01 192.9,235.13 193.4,234.82 193.9,235.26 194.4,234.72 194.9,235.26 195.4,234.83 195.9,234.92 196.4,235.38 196.9,235.18 197.4,235.13 197.9,235.24 198.4,235.47 198.9,235.39 199.4,235.43 199.9,235.7 200.4,235.34 200.9,235.43 201.4,235.45 201.9,235.86 202.4,235.86 202.9,235.96 203.4,235.7 203.9,235.71 204.4,235.97 204.9,235.73 205.4,236.04 205.9,236.05 206.4,235.77 206.9,235.95 207.4,235.98 207.9,236.42 208.4,236.65 208.9,236.1 209.4,236.16 209.9,235.7 210.4,236.29 210.9,236.28 211.4,236.09 211.9,236.54 212.4,236.06 212.9,236.4 213.4,236.53 213.9,236.26 214.4,236.77 214.9,236.86 215.4,236.37 215.9,236.42 216.4,236.91 216.9,236.82 217.4,236.62 217.9,236.87 218.4,236.97 218.9,237.03 219.4,237.3 219.9,237.27 220.4,237.64 220.9,237.61 221.4,237.53 221.9,237.68 222.4,237.8 222.9,237.73 223.4,237.37 223.9,237.89 224.4,237.78 224.9,238.18 225.4,237.91 225.9,238.06 226.4,238.07 226.9,238.43 227.4,238.15 227.9,238.1 228.4,238.27 228.9,238.15 229.4,238.34 229.9,238.35 230.4,238.46 230.9,238.87 231.4,238.41 231.9,238.56 232.4,238.55 232.9,238.8 233.4,238.44 233.9,238.6 234.4,238.79 234.9,238.97 235.4,238.89 235.9,238.83 236.4,238.8 236.9,239.15 237.4,239.4 237.9,239.2 238.4,239.22 238.9,239.32 239.4,239.05 239.9,239.23 240.4,239.28 240.9,239.44 241.4,239.41 241.9,239.18 242.4,239.73 242.9,239.89 243.4,239.49 243.9,239.66 244.4,239.66 244.9,239.79 245.4,239.32 245.9,240.02 246.4,239.58 246.9,239.97 247.4,239.72 247.9,239.63 248.4,239.69 248.9,239.92 249.4,239.54 249.9,239.64 250.4,239.62 250.9,239.35 251.4,240.02 251.9,239.86 252.4,239.73 252.9,239.99 253.4,239.53 253.9,239.73 254.4,240.13 254.9,239.96 255.4,239.26 255.9,239.02 256.4,239.53 256.9,239.99 257.4,239.66 257.9,239.72 258.4,239.9 258.9,239.58 259.4,239.82 259.9,239.95 260.4,239.88 260.9,239.87 261.4,239.65 261.9,239.9 262.4,239.7 262.9,240.08 263.4,240.32 263.9,239.43 264.4,238.85 264.9,238.89 265.4,238.68 265.9,238.43 266.4,238.05 266.9,237.22 267.4,236.68 267.9,236.55 268.4,235.48 268.9,235.52 269.4,234.97 269.9,235 270.4,234.79 270.9,234.61 271.4,234.41 271.9,233.8 272.4,233.85 272.9,233.55 273.4,233.35 273.9,233.26 274.4,232.59 274.9,232.11 275.4,231.69 275.9,231.33 276.4,231.07 276.9,230.19 277.4,230.07 277.9,229.28 278.4,228.56 278.9,227.69 279.4,227.41 279.9,226.88 280.4,225.72 280.9,225.78 281.4,225.32 281.9,224.52 282.4,224.09 282.9,224.11 283.4,223.52 283.9,222.79 284.4,222.8 284.9,222.66 285.4,222.63 285.9,222.18 286.4,222.95 286.9,222.77 287.4,223.09 287.9,223.15 288.4,223.44 288.9,223.15 289.4,222.84 289.9,222.7 290.4,222.18 290.9,220.71 291.4,219.56 291.9,217.29 292.4,214.55 292.9,211.85 293.4,207.6 293.9,203.72 294.4,198.62 294.9,193.7 295.4,187.98 295.9,182.68 296.4,177.91 296.9,172.93 297.4,168.75 297.9,165.34 298.4,163.26 298.9,161.73 299.4,161.9 299.9,163.46 300.4,165.86 300.9,169.54 301.4,174.27 301.9,179.58 302.4,185.41 302.9,191.94 303.4,197.97 303.9,204.05 304.4,209.49 304.9,214.68 305.4,219.26 305.9,223.72 306.4,226.98 306.9,230.38 307.4,233.22 307.9,235.48 308.4,236.99 308.9,237.88 309.4,239.18 309.9,239.66 310.4,240.6 310.9,240.84 311.4,241.39 311.9,242.04 312.4,241.89 312.9,242.37 313.4,242.04 313.9,242.05 314.4,242.51 314.9,242.67 315.4,242.23 315.9,242.41 316.4,242.1 316.9,242.39 317.4,242.65 317.9,242.46 318.4,242.37 318.9,242.2 319.4,242.61 319.9,242.72 320.4,242.69 320.9,242.63 321.4,242.3 321.9,242.99 322.4,242.6 322.9,242.59 323.4,242.79 323.9,242.17 324.4,242.64 324.9,242.63 325.4,242.75 325.9,242.97 326.4,242.78 326.9,242.28 327.4,242.61 327.9,242.74 328.4,242.73 328.9,242.42 329.4,242.33 329.9,242.82 330.4,242.78 330.9,242.7 331.4,242.32 331.9,243.09 332.4,242.06 332.9,242.62 333.4,243.16 333.9,242.67 334.4,242.75 334.9,242.44 335.4,243 335.9,242.42 336.4,242.76 336.9,242.73 337.4,242.47 337.9,242.9 338.4,242.39 338.9,242.55 339.4,242.69 339.9,242.61 340.4,242.8 340.9,242.9 341.4,242.64 341.9,242.58 342.4,242.59 342.9,242.62 343.4,242.88 343.9,242.65 344.4,242.79 344.9,242.68 345.4,242.51 345.9,242.89 346.4,242.47 346.9,242.7 347.4,243.03 347.9,242.46 348.4,242.69 348.9,242.35 349.4,242.59 349.9,242.37 350.4,242.62" fill="none" stroke="#444" stroke-width="1.15" stroke-linejoin="round"/>
<polyline points="188.9,234.5 189.4,234.5 189.9,234.5 190.4,234.5 190.9,234.5 191.4,234.5 191.9,234.5 192.4,234.5 192.9,234.5 193.4,234.5 193.9,234.5 194.4,234.5 194.9,234.5 195.4,234.5 195.9,234.5 196.4,234.5 196.9,234.5 197.4,234.5 197.9,234.51 198.4,234.51 198.9,234.51 199.4,234.51 199.9,234.51 200.4,234.51 200.9,234.51 201.4,234.51 201.9,234.51 202.4,234.51 202.9,234.51 203.4,234.51 203.9,234.51 204.4,234.51 204.9,234.51 205.4,234.52 205.9,234.52 206.4,234.52 206.9,234.52 207.4,234.52 207.9,234.52 208.4,234.52 208.9,234.52 209.4,234.52 209.9,234.52 210.4,234.52 210.9,234.53 211.4,234.53 211.9,234.53 212.4,234.53 212.9,234.53 213.4,234.53 213.9,234.53 214.4,234.53 214.9,234.53 215.4,234.53 215.9,234.54 216.4,234.54 216.9,234.54 217.4,234.54 217.9,234.54 218.4,234.54 218.9,234.54 219.4,234.54 219.9,234.55 220.4,234.55 220.9,234.55 221.4,234.55 221.9,234.55 222.4,234.55 222.9,234.55 223.4,234.55 223.9,234.56 224.4,234.56 224.9,234.56 225.4,234.56 225.9,234.56 226.4,234.56 226.9,234.56 227.4,234.56 227.9,234.57 228.4,234.57 228.9,234.57 229.4,234.57 229.9,234.57 230.4,234.57 230.9,234.57 231.4,234.58 231.9,234.58 232.4,234.58 232.9,234.58 233.4,234.58 233.9,234.58 234.4,234.58 234.9,234.59 235.4,234.59 235.9,234.59 236.4,234.59 236.9,234.59 237.4,234.59 237.9,234.59 238.4,234.6 238.9,234.6 239.4,234.6 239.9,234.6 240.4,234.6 240.9,234.6 241.4,234.6 241.9,234.61 242.4,234.61 242.9,234.61 243.4,234.61 243.9,234.61 244.4,234.61 244.9,234.61 245.4,234.61 245.9,234.62 246.4,234.62 246.9,234.62 247.4,234.62 247.9,234.62 248.4,234.62 248.9,234.62 249.4,234.63 249.9,234.63 250.4,234.63 250.9,234.63 251.4,234.63 251.9,234.63 252.4,234.64 252.9,234.64 253.4,234.64 253.9,234.64 254.4,234.65 254.9,234.65 255.4,234.65 255.9,234.65 256.4,234.66 256.9,234.66 257.4,234.66 257.9,234.67 258.4,234.67 258.9,234.67 259.4,234.68 259.9,234.68 260.4,234.68 260.9,234.68 261.4,234.69 261.9,234.69 262.4,234.69 262.9,234.7 263.4,234.7 263.9,234.71 264.4,234.72 264.9,234.73 265.4,234.73 265.9,234.74 266.4,234.74 266.9,234.73 267.4,234.72 267.9,234.69 268.4,234.66 268.9,234.61 269.4,234.55 269.9,234.47 270.4,234.38 270.9,234.26 271.4,234.13 271.9,233.96 272.4,233.77 272.9,233.54 273.4,233.28 273.9,232.98 274.4,232.65 274.9,232.27 275.4,231.85 275.9,231.4 276.4,230.9 276.9,230.37 277.4,229.81 277.9,229.22 278.4,228.61 278.9,227.98 279.4,227.35 279.9,226.73 280.4,226.11 280.9,225.52 281.4,224.96 281.9,224.45 282.4,223.98 282.9,223.58 283.4,223.25 283.9,222.99 284.4,222.8 284.9,222.7 285.4,222.66 285.9,222.7 286.4,222.79 286.9,222.91 287.4,223.05 287.9,223.18 288.4,223.25 288.9,223.21 289.4,223.01 289.9,222.59 290.4,221.87 290.9,220.78 291.4,219.26 291.9,217.24 292.4,214.66 292.9,211.51 293.4,207.78 293.9,203.5 294.4,198.73 294.9,193.6 295.4,188.25 295.9,182.87 296.4,177.67 296.9,172.89 297.4,168.74 297.9,165.44 298.4,163.16 298.9,162.04 299.4,162.14 299.9,163.49 300.4,166.04 300.9,169.7 301.4,174.29 301.9,179.61 302.4,185.45 302.9,191.57 303.4,197.75 303.9,203.78 304.4,209.5 304.9,214.79 305.4,219.58 305.9,223.79 306.4,227.43 306.9,230.51 307.4,233.06 307.9,235.12 308.4,236.77 308.9,238.07 309.4,239.07 309.9,239.84 310.4,240.26 310.9,240.9 311.4,241.68 311.9,241.56 312.4,241.88 312.9,241.84 313.4,241.93 313.9,241.87 314.4,241.67 314.9,242.31 315.4,242.84 315.9,242.53 316.4,242.25 316.9,242.93 317.4,242.33 317.9,242.29 318.4,242.13 318.9,242.22 319.4,242.45 319.9,243.14 320.4,242.5 320.9,242.26 321.4,242.4 321.9,242.53 322.4,242.1 322.9,242.66 323.4,242.84 323.9,242.74 324.4,242.83 324.9,242.27 325.4,242.16 325.9,243.06 326.4,243.01 326.9,242.22 327.4,242.75 327.9,242.7 328.4,242.86 328.9,242.76 329.4,242.55 329.9,242.76 330.4,242.75 330.9,242.69 331.4,242.14 331.9,241.8 332.4,242.46 332.9,242.21 333.4,242.78 333.9,242.91 334.4,242.78 334.9,242.59 335.4,242.72 335.9,243.05 336.4,242.48 336.9,242.98 337.4,242.91 337.9,242.78 338.4,243.14 338.9,242.48 339.4,242.98 339.9,242.42 340.4,242.47 340.9,242.38 341.4,242.83 341.9,242.42 342.4,242.72 342.9,242.36 343.4,243.02 343.9,243.25 344.4,242.77 344.9,243.19 345.4,242.87 345.9,243.35 346.4,242.73 346.9,242.23 347.4,243.15 347.9,242.66 348.4,242.39 348.9,242.5 349.4,242.21 349.9,242.65 350.4,242.38" fill="none" stroke="#a374dc" stroke-width="1.4" stroke-linejoin="round"/>
</svg></body></html>
